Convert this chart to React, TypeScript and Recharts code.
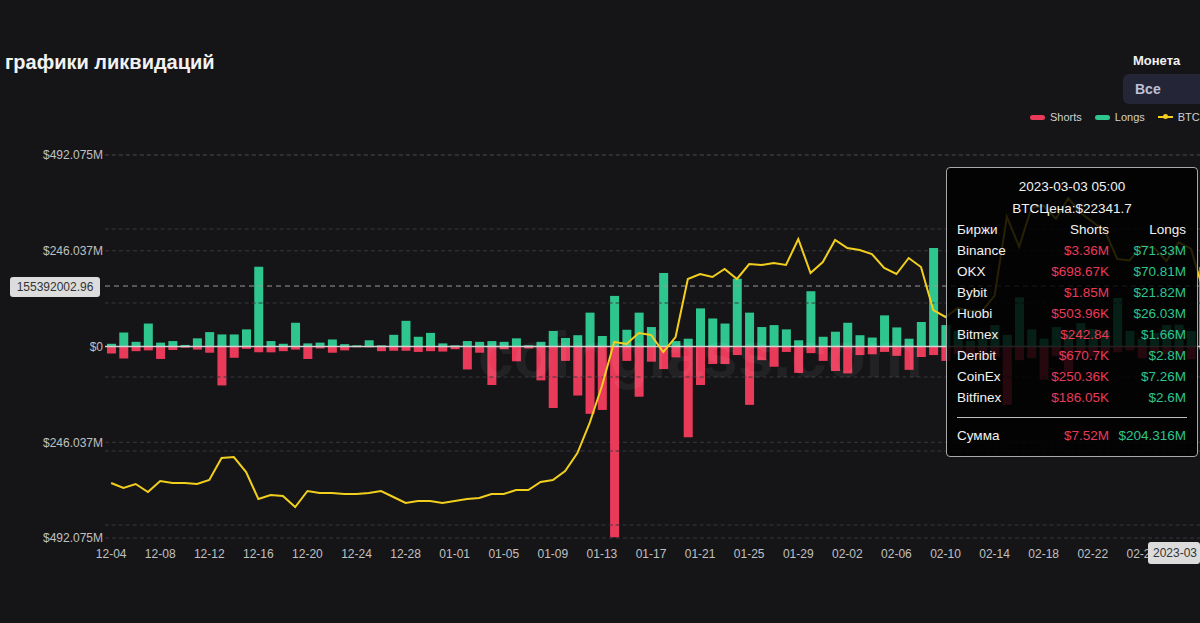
import React from 'react';
import { ComposedChart, Bar, Line, XAxis, YAxis, ReferenceLine, CartesianGrid } from 'recharts';

const dates = [
  '12-04','12-05','12-06','12-07','12-08','12-09','12-10','12-11','12-12','12-13','12-14','12-15','12-16','12-17','12-18','12-19','12-20','12-21','12-22','12-23','12-24','12-25','12-26','12-27','12-28','12-29','12-30','12-31',
  '01-01','01-02','01-03','01-04','01-05','01-06','01-07','01-08','01-09','01-10','01-11','01-12','01-13','01-14','01-15','01-16','01-17','01-18','01-19','01-20','01-21','01-22','01-23','01-24','01-25','01-26','01-27','01-28','01-29','01-30','01-31',
  '02-01','02-02','02-03','02-04','02-05','02-06','02-07','02-08','02-09','02-10','02-11','02-12','02-13','02-14','02-15','02-16','02-17','02-18','02-19','02-20','02-21','02-22','02-23','02-24','02-25','02-26','02-27','02-28',
  '03-01','03-02','03-03','03-04'
];

// Longs liquidations, $M
const longs = [
  7, 36, 12, 59, 10, 14, 4, 21, 37, 31, 31, 44, 205, 14, 7, 61, 8, 10, 18, 6, 3, 16, 3, 30, 66, 25, 35, 8,
  3, 14, 12, 14, 12, 21, 3, 12, 40, 22, 29, 87, 27, 130, 43, 87, 50, 189, 14, 20, 98, 72, 59, 174, 87, 50, 55, 44, 16, 142, 25,
  38, 61, 29, 23, 80, 49, 20, 63, 253, 55, 40, 15, 20, 55, 30, 126, 44, 20, 50, 35, 60, 45, 40, 125, 40, 20, 35, 55,
  56, 40, 204.316, 30
];

// Shorts liquidations, $M (drawn downward)
const shorts = [
  18, 31, 12, 10, 32, 9, 3, 8, 16, 100, 29, 6, 15, 15, 12, 8, 32, 5, 16, 10, 2, 2, 12, 11, 11, 14, 12, 13,
  7, 59, 16, 99, 7, 38, 5, 87, 158, 37, 126, 173, 163, 490, 37, 129, 39, 58, 28, 233, 99, 45, 45, 22, 150, 35, 52, 14, 68, 17, 37,
  63, 69, 22, 20, 14, 24, 60, 27, 22, 37, 20, 25, 30, 25, 150, 35, 30, 85, 25, 65, 20, 25, 20, 15, 10, 30, 15, 20,
  20, 33, 7.52, 10
];

const btcPrice = [
  17135, 17000, 17108, 16892, 17189, 17135, 17135, 17108, 17216, 17811, 17838, 17432, 16703, 16811, 16784, 16486, 16919, 16865, 16865, 16838, 16838, 16865, 16919, 16757, 16595, 16649, 16649, 16595,
  16649, 16703, 16730, 16838, 16838, 16946, 16946, 17162, 17216, 17459, 17946, 18757, 19757, 20946, 20892, 21189, 21135, 20676, 21081, 22649, 22784, 22703, 22919, 22649, 23054, 23027, 23081, 23027, 23730, 22811, 23108,
  23703, 23486, 23432, 23324, 22946, 22784, 23216, 22973, 21811, 21622, 21860, 21790, 21790, 22200, 24330, 23520, 24570, 24630, 24280, 24830, 24440, 24190, 23940, 23190, 23150, 23550, 23490, 23140,
  23640, 23470, 22341.7, 22360
];

const xTicks = ['12-04','12-08','12-12','12-16','12-20','12-24','12-28','01-01','01-05','01-09','01-13','01-17','01-21','01-25','01-29','02-02','02-06','02-10','02-14','02-18','02-22','02-26'];
const barTicks = [-492.075, -246.037, 0, 246.037, 492.075];
const priceTicks = [16000, 18000, 20000, 22000, 24000, 26000];
const crosshairValue = 155.39200296;
const crosshairLabel = '155392002.96';
const hoverDate = '2023-03-03 05:00';
const hoverPrice = 'BTCЦена:$22341.7';

const exchanges = ['Binance', 'OKX', 'Bybit', 'Huobi', 'Bitmex', 'Deribit', 'CoinEx', 'Bitfinex'];
const exShorts = ['$3.36M', '$698.67K', '$1.85M', '$503.96K', '$242.84', '$670.7K', '$250.36K', '$186.05K'];
const exLongs = ['$71.33M', '$70.81M', '$21.82M', '$26.03M', '$1.66M', '$2.8M', '$7.26M', '$2.6M'];
const totalShorts = '$7.52M';
const totalLongs = '$204.316M';

const RED = '#ea3a5a';
const GREEN = '#2fc58e';
const YELLOW = '#f2cf1d';
const BG = '#151518';
const FONT = '"Liberation Sans", Arial, Helvetica, sans-serif';

const data = dates.map((d, i) => ({ date: d, longs: longs[i], shorts: -shorts[i], price: btcPrice[i] }));

const fmtBar = (v: number) => (v === 0 ? '$0' : `$${Math.abs(v).toFixed(3)}M`);

export default function App() {
  return (
    <div style={{ position: 'absolute', left: 0, top: 0, width: 1200, height: 623, overflow: 'hidden', background: BG, fontFamily: FONT }}>
      <div style={{ position: 'absolute', left: 5, top: 51, color: '#f2f2f2', fontSize: 20, fontWeight: 700, whiteSpace: 'nowrap' }}>
        графики ликвидаций
      </div>
      <div style={{ position: 'absolute', left: 1133, top: 53, color: '#f0f0f0', fontSize: 13, fontWeight: 700 }}>Монета</div>
      <div style={{ position: 'absolute', left: 1123, top: 74, width: 110, height: 30, borderRadius: 6, background: '#242536', color: '#bfc0d8', fontSize: 14, fontWeight: 700, lineHeight: '30px', paddingLeft: 12, boxSizing: 'border-box' }}>Все</div>

      {/* legend */}
      <div style={{ position: 'absolute', left: 1030, top: 109, height: 16, display: 'flex', alignItems: 'center', whiteSpace: 'nowrap', fontSize: 11, color: '#d0d0d0' }}>
        <span style={{ display: 'inline-block', width: 15, height: 5, borderRadius: 3, background: RED, marginRight: 5 }} />
        <span style={{ marginRight: 13 }}>Shorts</span>
        <span style={{ display: 'inline-block', width: 15, height: 5, borderRadius: 3, background: GREEN, marginRight: 5 }} />
        <span style={{ marginRight: 13 }}>Longs</span>
        <span style={{ position: 'relative', display: 'inline-block', width: 15, height: 2, background: YELLOW, marginRight: 5 }}>
          <span style={{ position: 'absolute', left: 5, top: -2, width: 5, height: 5, borderRadius: 3, background: YELLOW }} />
        </span>
        <span>BTC Цена</span>
      </div>

      <div style={{ position: 'absolute', left: 0, top: 0 }}>
        <ComposedChart
          width={1300}
          height={623}
          data={data}
          stackOffset="sign"
          margin={{ top: 155, right: 78.4, left: 0, bottom: 55 }}
        >
          <CartesianGrid yAxisId="bars" vertical={false} stroke="#38383d" strokeDasharray="4 3" />
          <XAxis
            dataKey="date"
            ticks={xTicks}
            interval={0}
            tickLine={false}
            axisLine={false}
            tick={{ fill: '#c0c0c0', fontSize: 12 }}
            tickMargin={5}
          />
          <YAxis
            yAxisId="bars"
            width={105}
            domain={[-492.075, 492.075]}
            ticks={barTicks}
            tickFormatter={fmtBar}
            tickLine={false}
            axisLine={false}
            tickSize={0}
            tickMargin={2}
            allowDataOverflow
            tick={{ fill: '#c0c0c0', fontSize: 12 }}
          />
          <YAxis yAxisId="price" orientation="right" hide domain={[15649, 26000]} allowDataOverflow />
          {priceTicks.map((p) => (
            <ReferenceLine key={p} yAxisId="price" y={p} stroke="#38383d" strokeDasharray="4 3" />
          ))}
          <Bar yAxisId="bars" dataKey="shorts" name="Shorts" stackId="liq" fill={RED} barSize={9} isAnimationActive={false} />
          <Bar yAxisId="bars" dataKey="longs" name="Longs" stackId="liq" fill={GREEN} barSize={9} isAnimationActive={false} />
          <ReferenceLine yAxisId="bars" y={0} stroke="#d2d2d2" strokeWidth={1.5} />
          <ReferenceLine yAxisId="bars" y={crosshairValue} stroke="#9a9a9a" strokeDasharray="5 4" />
          <Line yAxisId="price" type="linear" dataKey="price" name="BTC Цена" stroke={YELLOW} strokeWidth={2} dot={false} isAnimationActive={false} />
        </ComposedChart>
      </div>

      {/* watermark */}
      <div style={{ position: 'absolute', left: 478, top: 318, fontSize: 64, fontWeight: 700, color: 'rgba(255,255,255,0.06)', whiteSpace: 'nowrap', pointerEvents: 'none' }}>
        coinglass.com
      </div>

      {/* crosshair labels */}
      <div style={{ position: 'absolute', left: 10, top: 277, width: 90, height: 20, borderRadius: 3, background: '#dcdcdc', color: '#333', fontSize: 12, lineHeight: '20px', textAlign: 'center' }}>
        {crosshairLabel}
      </div>
      <div style={{ position: 'absolute', left: 1148, top: 542, width: 52, height: 22, borderRadius: 3, background: '#dcdcdc', color: '#333', fontSize: 12, lineHeight: '22px', paddingLeft: 5, boxSizing: 'border-box', whiteSpace: 'nowrap', overflow: 'hidden' }}>
        2023-03
      </div>

      {/* tooltip */}
      <div style={{ position: 'absolute', left: 946, top: 167, width: 252, height: 290, boxSizing: 'border-box', border: '1px solid #a8a8a8', borderRadius: 4, background: 'rgba(0,0,0,0.84)', color: '#f2f2f2', fontSize: 13.5 }}>
        <div style={{ position: 'absolute', left: 0, right: 0, top: 11, textAlign: 'center' }}>{hoverDate}</div>
        <div style={{ position: 'absolute', left: 0, right: 0, top: 33, textAlign: 'center' }}>{hoverPrice}</div>
        <div style={{ position: 'absolute', left: 10, top: 54 }}>Биржи</div>
        <div style={{ position: 'absolute', right: 88, top: 54 }}>Shorts</div>
        <div style={{ position: 'absolute', right: 11, top: 54 }}>Longs</div>
        {exchanges.map((ex, i) => (
          <React.Fragment key={ex}>
            <div style={{ position: 'absolute', left: 10, top: 75 + i * 21 }}>{ex}</div>
            <div style={{ position: 'absolute', right: 88, top: 75 + i * 21, color: RED }}>{exShorts[i]}</div>
            <div style={{ position: 'absolute', right: 11, top: 75 + i * 21, color: GREEN }}>{exLongs[i]}</div>
          </React.Fragment>
        ))}
        <div style={{ position: 'absolute', left: 10, right: 10, top: 249, height: 1, background: '#bdbdbd' }} />
        <div style={{ position: 'absolute', left: 10, top: 260 }}>Сумма</div>
        <div style={{ position: 'absolute', right: 88, top: 260, color: RED }}>{totalShorts}</div>
        <div style={{ position: 'absolute', right: 11, top: 260, color: GREEN }}>{totalLongs}</div>
      </div>
    </div>
  );
}
